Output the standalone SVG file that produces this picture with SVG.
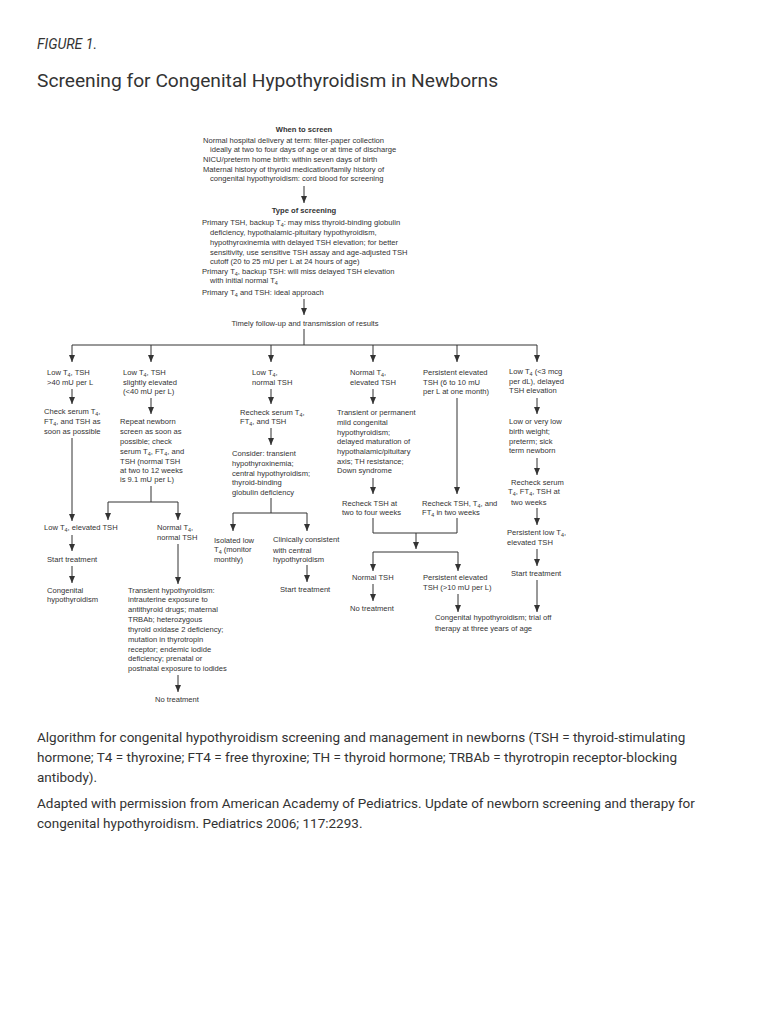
<svg xmlns="http://www.w3.org/2000/svg" width="768" height="1024" viewBox="0 0 768 1024">
<defs>
<style>
.h{font-family:Roboto,"Liberation Sans",sans-serif;fill:#333}
.t{font-family:"Liberation Sans",Arial,sans-serif;font-size:7.6px;fill:#333}
.b{font-weight:bold}
.m{text-anchor:middle}
.s{font-size:5.4px;baseline-shift:-1.6px}
.c line{stroke:#333;stroke-width:1;fill:none}
.c .a{marker-end:url(#ah)}
</style>
<marker id="ah" viewBox="0 0 7 6" refX="7" refY="3" markerWidth="7" markerHeight="6" markerUnits="userSpaceOnUse" orient="auto">
<path d="M0,0 L7,3 L0,6 Z" fill="#333"/>
</marker>
</defs>
<rect width="768" height="1024" fill="#fff"/>
<g id="header">
<text class="h" x="37" y="49" font-size="14" font-style="italic">FIGURE 1.</text>
<text class="h" x="37" y="87" font-size="19.2">Screening for Congenital Hypothyroidism in Newborns</text>
</g>
<g id="when">
<text class="t b m" x="304" y="132">When to screen</text>
<text class="t" x="203" y="143">Normal hospital delivery at term: filter-paper collection</text>
<text class="t" x="210" y="152">ideally at two to four days of age or at time of discharge</text>
<text class="t" x="203" y="162">NICU/preterm home birth: within seven days of birth</text>
<text class="t" x="203" y="172">Maternal history of thyroid medication/family history of</text>
<text class="t" x="210" y="181">congenital hypothyroidism: cord blood for screening</text>
</g>
<g id="type">
<text class="t b m" x="304" y="213">Type of screening</text>
<text class="t" x="202" y="225">Primary TSH, backup T<tspan class="s">4</tspan>: may miss thyroid-binding globulin</text>
<text class="t" x="210" y="235">deficiency, hypothalamic-pituitary hypothyroidism,</text>
<text class="t" x="210" y="245">hypothyroxinemia with delayed TSH elevation; for better</text>
<text class="t" x="210" y="255">sensitivity, use sensitive TSH assay and age-adjusted TSH</text>
<text class="t" x="210" y="264">cutoff (20 to 25 mU per L at 24 hours of age)</text>
<text class="t" x="202" y="274">Primary T<tspan class="s">4</tspan>, backup TSH: will miss delayed TSH elevation</text>
<text class="t" x="210" y="283">with initial normal T<tspan class="s">4</tspan></text>
<text class="t" x="202" y="295">Primary T<tspan class="s">4</tspan> and TSH: ideal approach</text>
</g>
<g id="followup">
<text class="t m" x="305" y="326">Timely follow-up and transmission of results</text>
</g>
<g id="c1a"><text class="t" x="47" y="375">Low T<tspan class="s">4</tspan>, TSH</text><text class="t" x="47" y="385">&gt;40 mU per L</text></g>
<g id="c1b"><text class="t" x="44" y="414">Check serum T<tspan class="s">4</tspan>,</text><text class="t" x="44" y="424">FT<tspan class="s">4</tspan>, and TSH as</text><text class="t" x="44" y="434">soon as possible</text></g>
<g id="c1c"><text class="t" x="44" y="530">Low T<tspan class="s">4</tspan>, elevated TSH</text></g>
<g id="c1d"><text class="t" x="47" y="562">Start treatment</text></g>
<g id="c1e"><text class="t" x="47" y="593">Congenital</text><text class="t" x="47" y="602">hypothyroidism</text></g>
<g id="c2a"><text class="t" x="123" y="375">Low T<tspan class="s">4</tspan>, TSH</text><text class="t" x="123" y="385">slightly elevated</text><text class="t" x="123" y="394">(&lt;40 mU per L)</text></g>
<g id="c2b"><text class="t" x="120" y="424">Repeat newborn</text><text class="t" x="120" y="434">screen as soon as</text><text class="t" x="120" y="444">possible; check</text><text class="t" x="120" y="454">serum T<tspan class="s">4</tspan>, FT<tspan class="s">4</tspan>, and</text><text class="t" x="120" y="464">TSH (normal TSH</text><text class="t" x="120" y="473">at two to 12 weeks</text><text class="t" x="120" y="482">is 9.1 mU per L)</text></g>
<g id="c2c"><text class="t" x="157" y="530">Normal T<tspan class="s">4</tspan>,</text><text class="t" x="157" y="540">normal TSH</text></g>
<g id="c2d"><text class="t" x="128" y="593">Transient hypothyroidism:</text><text class="t" x="128" y="602">intrauterine exposure to</text><text class="t" x="128" y="612">antithyroid drugs; maternal</text><text class="t" x="128" y="622">TRBAb; heterozygous</text><text class="t" x="128" y="632">thyroid oxidase 2 deficiency;</text><text class="t" x="128" y="642">mutation in thyrotropin</text><text class="t" x="128" y="652">receptor; endemic iodide</text><text class="t" x="128" y="661">deficiency; prenatal or</text><text class="t" x="128" y="671">postnatal exposure to iodides</text></g>
<g id="c2e"><text class="t" x="155" y="702">No treatment</text></g>
<g id="c3a"><text class="t" x="252" y="375">Low T<tspan class="s">4</tspan>,</text><text class="t" x="252" y="385">normal TSH</text></g>
<g id="c3b"><text class="t" x="240" y="415">Recheck serum T<tspan class="s">4</tspan>,</text><text class="t" x="240" y="424">FT<tspan class="s">4</tspan>, and TSH</text></g>
<g id="c3c"><text class="t" x="232" y="456">Consider: transient</text><text class="t" x="232" y="466">hypothyroxinemia;</text><text class="t" x="232" y="476">central hypothyroidism;</text><text class="t" x="232" y="485">thyroid-binding</text><text class="t" x="232" y="495">globulin deficiency</text></g>
<g id="c3d"><text class="t" x="214" y="543">Isolated low</text><text class="t" x="214" y="552">T<tspan class="s">4</tspan> (monitor</text><text class="t" x="214" y="562">monthly)</text></g>
<g id="c3e"><text class="t" x="273" y="542">Clinically consistent</text><text class="t" x="273" y="553">with central</text><text class="t" x="273" y="562">hypothyroidism</text></g>
<g id="c3f"><text class="t" x="280" y="592">Start treatment</text></g>
<g id="c4a"><text class="t" x="350" y="375">Normal T<tspan class="s">4</tspan>,</text><text class="t" x="350" y="385">elevated TSH</text></g>
<g id="c4b"><text class="t" x="337" y="415">Transient or permanent</text><text class="t" x="337" y="425">mild congenital</text><text class="t" x="337" y="435">hypothyroidism;</text><text class="t" x="337" y="444">delayed maturation of</text><text class="t" x="337" y="454">hypothalamic/pituitary</text><text class="t" x="337" y="464">axis; TH resistance;</text><text class="t" x="337" y="473">Down syndrome</text></g>
<g id="c4c"><text class="t" x="342" y="506">Recheck TSH at</text><text class="t" x="342" y="515">two to four weeks</text></g>
<g id="c4d"><text class="t" x="352" y="580">Normal TSH</text></g>
<g id="c4e"><text class="t" x="350" y="611">No treatment</text></g>
<g id="c5a"><text class="t" x="423" y="375">Persistent elevated</text><text class="t" x="423" y="385">TSH (6 to 10 mU</text><text class="t" x="423" y="394">per L at one month)</text></g>
<g id="c5b"><text class="t" x="422" y="506">Recheck TSH, T<tspan class="s">4</tspan>, and</text><text class="t" x="422" y="515">FT<tspan class="s">4</tspan> in two weeks</text></g>
<g id="c5c"><text class="t" x="423" y="580">Persistent elevated</text><text class="t" x="423" y="590">TSH (&gt;10 mU per L)</text></g>
<g id="c5d"><text class="t" x="435" y="620">Congenital hypothyroidism; trial off</text><text class="t" x="435" y="631">therapy at three years of age</text></g>
<g id="c6a"><text class="t" x="509" y="374">Low T<tspan class="s">4</tspan> (&lt;3 mcg</text><text class="t" x="509" y="384">per dL), delayed</text><text class="t" x="509" y="393">TSH elevation</text></g>
<g id="c6b"><text class="t" x="509" y="424">Low or very low</text><text class="t" x="509" y="434">birth weight;</text><text class="t" x="509" y="444">preterm; sick</text><text class="t" x="509" y="453">term newborn</text></g>
<g id="c6c"><text class="t" x="511" y="485">Recheck serum</text><text class="t" x="508" y="494">T<tspan class="s">4</tspan>, FT<tspan class="s">4</tspan>, TSH at</text><text class="t" x="511" y="505">two weeks</text></g>
<g id="c6d"><text class="t" x="507" y="535">Persistent low T<tspan class="s">4</tspan>,</text><text class="t" x="507" y="545">elevated TSH</text></g>
<g id="c6e"><text class="t" x="511" y="576">Start treatment</text></g>
<g id="connectors" class="c">
<line class="a" x1="304" y1="186" x2="304" y2="203"/>
<line class="a" x1="304" y1="299" x2="304" y2="315"/>
<line x1="304" y1="329" x2="304" y2="345"/>
<line x1="72" y1="345" x2="537" y2="345"/>
<line class="a" x1="72" y1="345" x2="72" y2="362"/>
<line class="a" x1="151" y1="345" x2="151" y2="362"/>
<line class="a" x1="271" y1="345" x2="271" y2="362"/>
<line class="a" x1="373" y1="345" x2="373" y2="362"/>
<line class="a" x1="457" y1="345" x2="457" y2="362"/>
<line class="a" x1="537" y1="345" x2="537" y2="362"/>
<line class="a" x1="72" y1="389" x2="72" y2="404"/>
<line class="a" x1="72" y1="438" x2="72" y2="521"/>
<line class="a" x1="72" y1="535" x2="72" y2="551"/>
<line class="a" x1="72" y1="566" x2="72" y2="583"/>
<line class="a" x1="151" y1="398" x2="151" y2="414"/>
<line x1="151" y1="486" x2="151" y2="502"/>
<line x1="108" y1="502" x2="178" y2="502"/>
<line class="a" x1="108" y1="502" x2="108" y2="520"/>
<line class="a" x1="178" y1="502" x2="178" y2="520"/>
<line class="a" x1="178" y1="544" x2="178" y2="584"/>
<line class="a" x1="178" y1="675" x2="178" y2="692"/>
<line class="a" x1="271" y1="389" x2="271" y2="404"/>
<line class="a" x1="271" y1="428" x2="271" y2="445"/>
<line x1="271" y1="498" x2="271" y2="513"/>
<line x1="233" y1="513" x2="307" y2="513"/>
<line class="a" x1="233" y1="513" x2="233" y2="531"/>
<line class="a" x1="307" y1="513" x2="307" y2="531"/>
<line class="a" x1="307" y1="565" x2="307" y2="582"/>
<line class="a" x1="373" y1="389" x2="373" y2="404"/>
<line class="a" x1="373" y1="478" x2="373" y2="494"/>
<line class="a" x1="457" y1="398" x2="457" y2="494"/>
<line x1="373" y1="518" x2="373" y2="533"/>
<line x1="457" y1="518" x2="457" y2="533"/>
<line x1="373" y1="533" x2="457" y2="533"/>
<line class="a" x1="416" y1="533" x2="416" y2="549"/>
<line x1="373" y1="552" x2="458" y2="552"/>
<line class="a" x1="373" y1="552" x2="373" y2="571"/>
<line class="a" x1="458" y1="552" x2="458" y2="571"/>
<line class="a" x1="373" y1="584" x2="373" y2="601"/>
<line class="a" x1="458" y1="594" x2="458" y2="612"/>
<line class="a" x1="537" y1="398" x2="537" y2="414"/>
<line class="a" x1="537" y1="458" x2="537" y2="475"/>
<line class="a" x1="537" y1="508" x2="537" y2="525"/>
<line class="a" x1="537" y1="549" x2="537" y2="566"/>
<line class="a" x1="537" y1="580" x2="537" y2="612"/>
</g>
<g id="caption">
<text class="h" x="37" y="742" font-size="13.5">Algorithm for congenital hypothyroidism screening and management in newborns (TSH = thyroid-stimulating</text>
<text class="h" x="37" y="762" font-size="13.5">hormone; T4 = thyroxine; FT4 = free thyroxine; TH = thyroid hormone; TRBAb = thyrotropin receptor-blocking</text>
<text class="h" x="37" y="782" font-size="13.5">antibody).</text>
<text class="h" x="37" y="808" font-size="13.5">Adapted with permission from American Academy of Pediatrics. Update of newborn screening and therapy for</text>
<text class="h" x="37" y="828" font-size="13.5">congenital hypothyroidism. Pediatrics 2006; 117:2293.</text>
</g>
</svg>
